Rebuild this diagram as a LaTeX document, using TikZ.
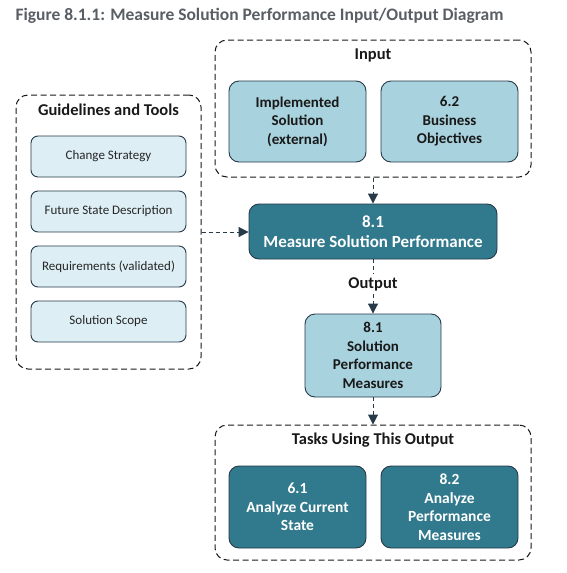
\documentclass[tikz,border=0pt]{standalone}
\usepackage{fontspec}
\setmainfont{Carlito}
\usetikzlibrary{arrows.meta, positioning}
\definecolor{titlegray}{RGB}{88,94,100}
\definecolor{boxline}{RGB}{38,58,72}
\definecolor{inblue}{RGB}{168,210,222}
\definecolor{paleblue}{RGB}{221,238,244}
\definecolor{taskteal}{RGB}{49,121,140}

\begin{document}
\begin{tikzpicture}[x=1pt, y=-1pt,
  group/.style={draw=black!90, dash pattern=on 6pt off 3.5pt, rounded corners=12pt, line width=1pt},
  grouptitle/.style={font=\fontsize{16.5}{19}\selectfont\bfseries, text=black!90},
  inbox/.style={draw=boxline, fill=inblue, rounded corners=10pt, line width=0.9pt, align=center,
    minimum width=137pt, minimum height=81pt, font=\fontsize{15}{18.5}\selectfont\bfseries, text=black!90},
  toolbox/.style={draw=boxline, fill=paleblue, rounded corners=7pt, line width=0.9pt,
    minimum width=155pt, minimum height=41pt, font=\fontsize{13}{15}\selectfont, text=black!85},
  taskbox/.style={draw=boxline, fill=taskteal, rounded corners=10pt, line width=0.9pt, align=center,
    minimum width=137pt, minimum height=82pt, font=\fontsize{15.5}{18.5}\selectfont\bfseries, text=white},
  flow/.style={draw=boxline, line width=1pt, dash pattern=on 4pt off 3pt, -{Triangle[length=10pt, width=10pt]}}]

  \useasboundingbox (0,0) rectangle (566,573);

  % figure caption
  \node[anchor=west, text=titlegray, font=\fontsize{17.5}{20}\selectfont\bfseries] (caption) at (12,16)
    {Figure 8.1.1: Measure Solution Performance Input/Output Diagram};

  % input group
  \node[group, minimum width=316pt, minimum height=137pt] (inputgrp) at (373,108.5) {};
  \node[grouptitle] (inputttl) at (373,55) {Input};
  \node[inbox] (impl) at (297.5,121.5) {Implemented\\Solution\\(external)};
  \node[inbox] (bizobj) at (449.5,121.5) {6.2\\Business\\Objectives};

  % guidelines and tools
  \node[group, minimum width=185pt, minimum height=274pt] (guide) at (108.5,232) {};
  \node[grouptitle] (guidettl) at (108.5,110) {Guidelines and Tools};
  \node[toolbox] (chgstrat) at (108.5,156.5) {Change Strategy};
  \node[toolbox] (futstate) at (108.5,211.5) {Future State Description};
  \node[toolbox] (reqval) at (108.5,266.5) {Requirements (validated)};
  \node[toolbox] (solscope) at (108.5,321.5) {Solution Scope};

  % the task itself
  \node[taskbox, minimum width=248pt, minimum height=55pt, font=\fontsize{17}{20}\selectfont\bfseries]
    (measure) at (373,231.5) {8.1\\Measure Solution Performance};

  % output
  \node[grouptitle] (outttl) at (373,284) {Output};
  \node[inbox, minimum width=136pt, minimum height=83pt] (spm) at (373,355.5)
    {8.1\\Solution\\Performance\\Measures};

  % tasks using this output
  \node[group, minimum width=316pt, minimum height=135pt] (tasksgrp) at (373,492.5) {};
  \node[grouptitle] (tasksttl) at (373,440) {Tasks Using This Output};
  \node[taskbox] (curstate) at (297.5,507) {6.1\\Analyze Current\\State};
  \node[taskbox] (perfmeas) at (449.5,507) {8.2\\Analyze\\Performance\\Measures};

  % connectors
  \draw[flow] (inputgrp.south) -- (measure.north);
  \draw[flow] (guide.east) -- (guide.east -| measure.west);
  \draw[draw=boxline, line width=1pt, dash pattern=on 4pt off 3pt] (measure.south) -- (outttl.north);
  \draw[flow] (outttl.south) -- (spm.north);
  \draw[flow] (spm.south) -- (tasksgrp.north);
\end{tikzpicture}
\end{document}
